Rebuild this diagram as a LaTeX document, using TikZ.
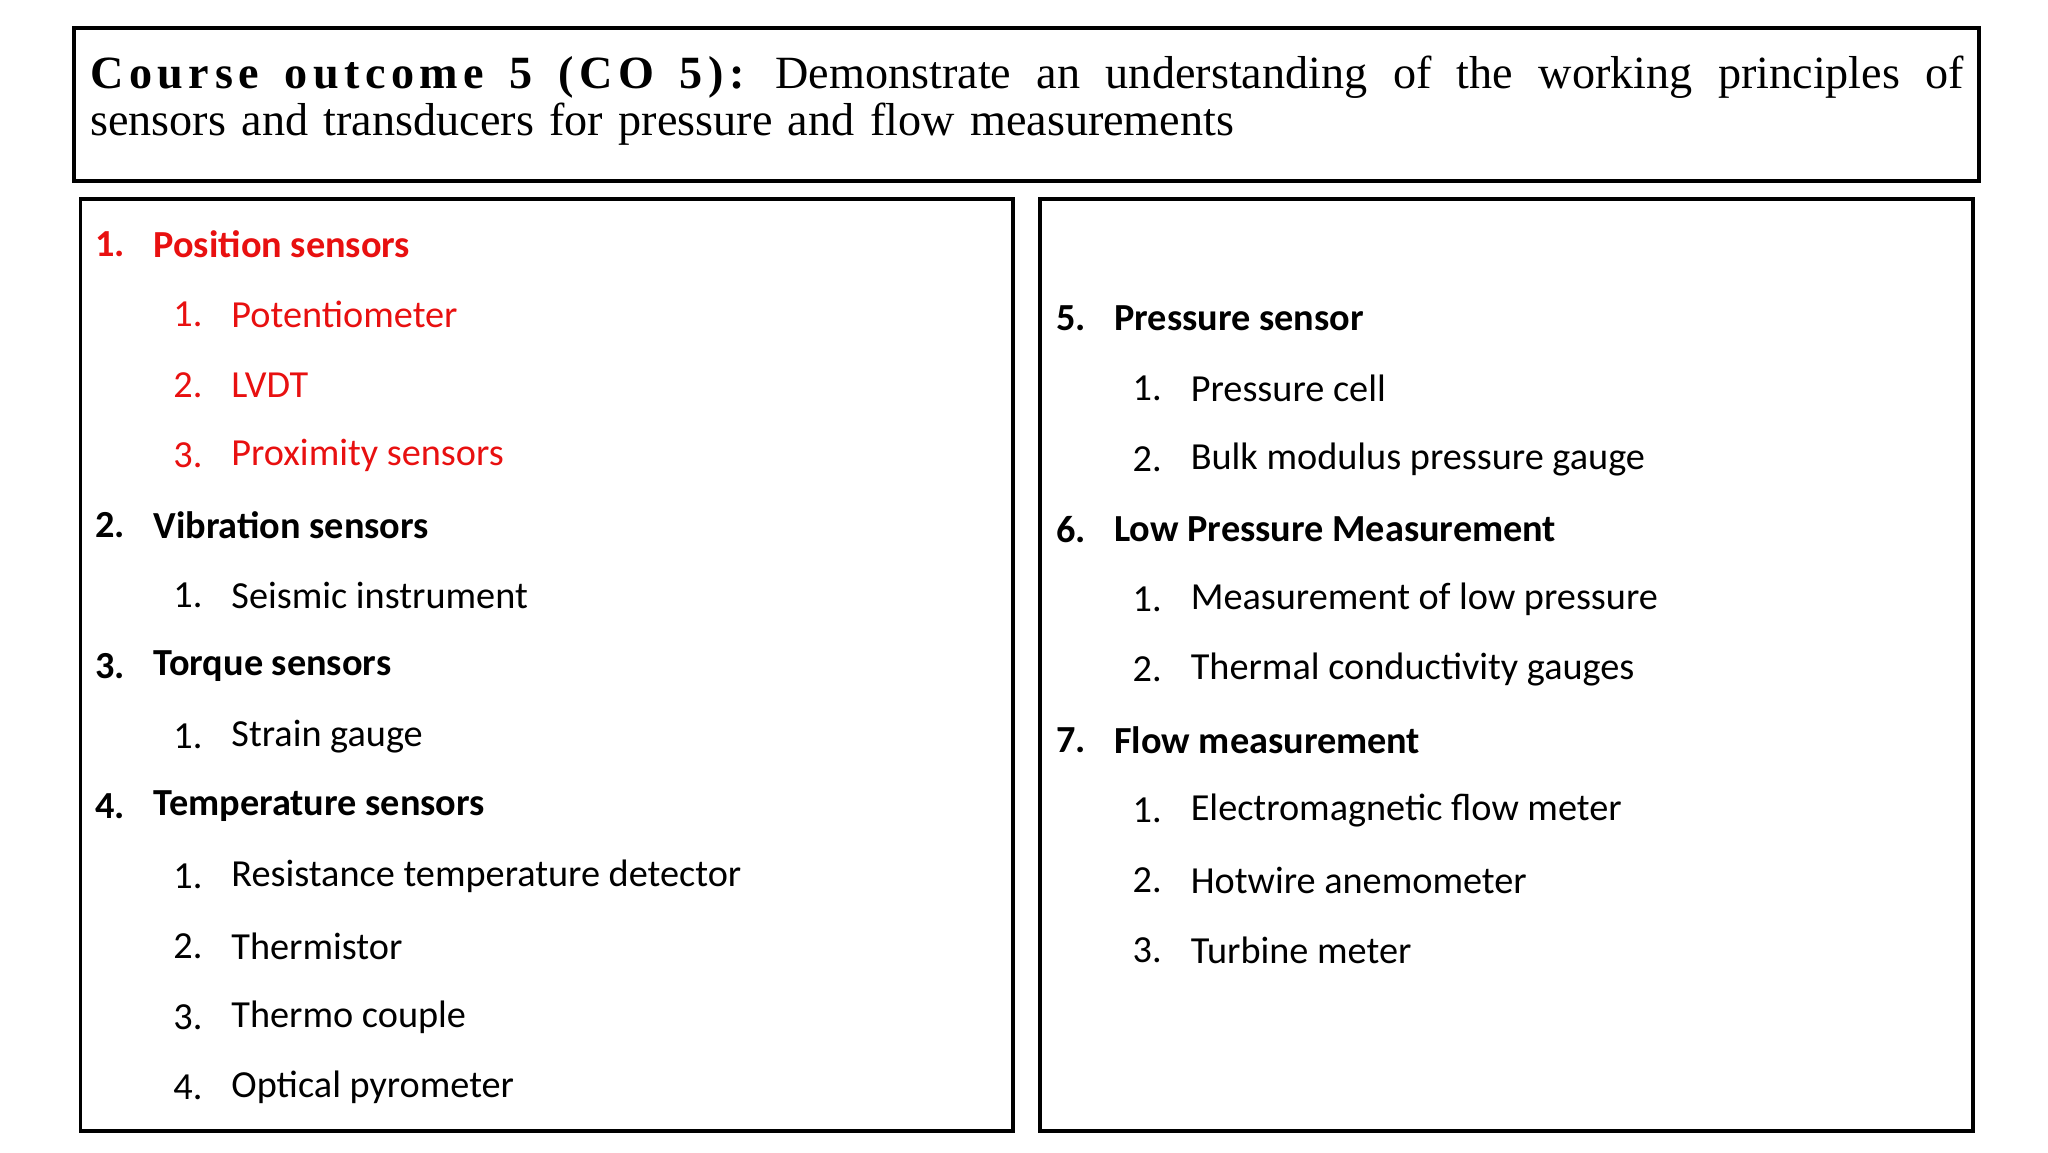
\documentclass[tikz,border=0pt]{standalone}
\usepackage{fontspec}
\setmainfont{Carlito}
\newfontfamily\titlefont{Liberation Serif}
\definecolor{redt}{RGB}{232,16,16}
\begin{document}
\begin{tikzpicture}[x=0.5pt,y=-0.5pt,
  frame/.style={draw,line width=1.5pt},
  it/.style={anchor=west,inner sep=0pt,font=\fontsize{14.5}{17}\selectfont},
  hd/.style={it,font=\fontsize{14.5}{17}\selectfont\bfseries}]
\useasboundingbox (0,0) rectangle (1552,873);
\draw[frame] (56,21) rectangle (1500,137);
\draw[frame] (61,151) rectangle (768,857);
\draw[frame] (788,151) rectangle (1495,857);
\node[anchor=north west,inner sep=0pt,text width=710pt,
  font=\titlefont\fontsize{17.5}{18}\selectfont] (title) at (68,42)
  {\makebox[\linewidth][s]{\textbf{\addfontfeature{LetterSpace=12}Course\hfill outcome\hfill 5\hfill (CO\hfill 5):}\hfill Demonstrate\hfill an\hfill understanding\hfill of\hfill the\hfill working\hfill principles\hfill of}\par\noindent
  sensors and transducers for pressure and flow measurements};
% left column
\node[hd,text=redt] (n1) at (72,185) {1.};\node[hd,text=redt] (t1) at (116,185) {Position sensors};
\node[it,text=redt] (n11) at (131,238) {1.};\node[it,text=redt] (t11) at (175,238) {Potentiometer};
\node[it,text=redt] (n12) at (131,292) {2.};\node[it,text=redt] (t12) at (175,292) {LVDT};
\node[it,text=redt] (n13) at (131,345) {3.};\node[it,text=redt] (t13) at (175,345) {Proximity sensors};
\node[hd] (n2) at (72,398) {2.};\node[hd] (t2) at (116,398) {Vibration sensors};
\node[it] (n21) at (131,451) {1.};\node[it] (t21) at (175,451) {Seismic instrument};
\node[hd] (n3) at (72,505) {3.};\node[hd] (t3) at (116,505) {Torque sensors};
\node[it] (n31) at (131,558) {1.};\node[it] (t31) at (175,558) {Strain gauge};
\node[hd] (n4) at (72,611) {4.};\node[hd] (t4) at (116,611) {Temperature sensors};
\node[it] (n41) at (131,664) {1.};\node[it] (t41) at (175,664) {Resistance temperature detector};
\node[it] (n42) at (131,717) {2.};\node[it] (t42) at (175,717) {Thermistor};
\node[it] (n43) at (131,771) {3.};\node[it] (t43) at (175,771) {Thermo couple};
\node[it] (n44) at (131,824) {4.};\node[it] (t44) at (175,824) {Optical pyrometer};
% right column
\node[hd] (n5) at (800,241) {5.};\node[hd] (t5) at (844,241) {Pressure sensor};
\node[it] (n51) at (858,294) {1.};\node[it] (t51) at (902,294) {Pressure cell};
\node[it] (n52) at (858,348) {2.};\node[it] (t52) at (902,348) {Bulk modulus pressure gauge};
\node[hd] (n6) at (800,401) {6.};\node[hd] (t6) at (844,401) {Low Pressure Measurement};
\node[it] (n61) at (858,454) {1.};\node[it] (t61) at (902,454) {Measurement of low pressure};
\node[it] (n62) at (858,507) {2.};\node[it] (t62) at (902,507) {Thermal conductivity gauges};
\node[hd] (n7) at (800,561) {7.};\node[hd] (t7) at (844,561) {Flow measurement};
\node[it] (n71) at (858,614) {1.};\node[it] (t71) at (902,614) {Electromagnetic flow meter};
\node[it] (n72) at (858,667) {2.};\node[it] (t72) at (902,667) {Hotwire anemometer};
\node[it] (n73) at (858,720) {3.};\node[it] (t73) at (902,720) {Turbine meter};
\end{tikzpicture}
\end{document}
